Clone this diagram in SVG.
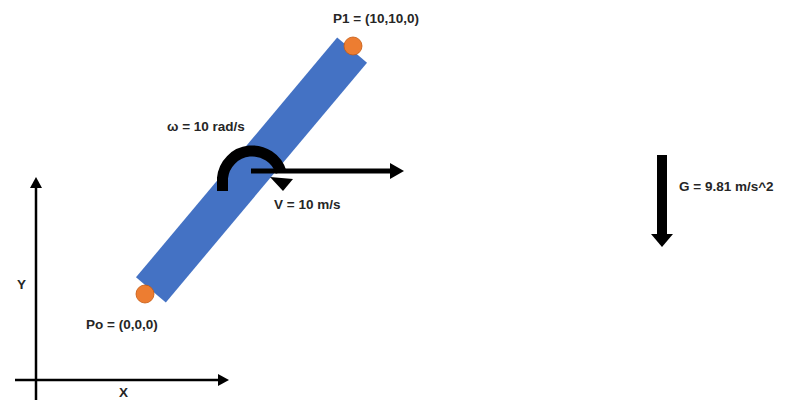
<svg xmlns="http://www.w3.org/2000/svg" width="800" height="405" viewBox="0 0 800 405">
<style>
.t{font-family:"Liberation Sans",Arial,sans-serif;font-weight:bold;font-size:13.5px;fill:#262626}
.ax{stroke:#000;stroke-width:2.5;fill:none}
.dot{fill:#ED7D31;stroke:#C55A11;stroke-width:0.8}
</style>
<rect width="800" height="405" fill="#fff"/>
<g id="axes">
<line class="ax" x1="36" y1="400" x2="36" y2="185"/>
<path d="M30,188 L36,177 L42,188 z" fill="#000"/>
<line class="ax" x1="15" y1="380" x2="220" y2="380"/>
<path d="M218,374 L229,380 L218,386 z" fill="#000"/>
<text class="t" x="17" y="289">Y</text>
<text class="t" x="119" y="397">X</text>
</g>
<g id="bar">
<rect x="95" y="150.5" width="313" height="39" fill="#4472C4" transform="rotate(-50 251.5 170)"/>
</g>
<g id="p1">
<circle class="dot" cx="353" cy="46" r="9"/>
<text class="t" x="333" y="23">P1 = (10,10,0)</text>
</g>
<g id="p0">
<circle class="dot" cx="145" cy="294" r="9"/>
<text class="t" x="86" y="329">Po = (0,0,0)</text>
</g>
<g id="connectors">
<path d="M222.5,191 L222.5,178 A30,30 0 0 1 281,172" fill="none" stroke="#000" stroke-width="11"/>
<path d="M270,177 L293,179 L283,191 z" fill="#000"/>
<line x1="251" y1="171" x2="392" y2="171" stroke="#000" stroke-width="5"/>
<path d="M390,163 L404,171 L390,179 z" fill="#000"/>
<rect x="657" y="155" width="10" height="80" fill="#000"/>
<path d="M651,234 L673,234 L662,247 z" fill="#000"/>
</g>
<g id="labels">
<text class="t" x="167" y="131">ω = 10 rad/s</text>
<text class="t" x="274" y="209">V = 10 m/s</text>
<text class="t" x="679" y="191">G = 9.81 m/s^2</text>
</g>
</svg>
